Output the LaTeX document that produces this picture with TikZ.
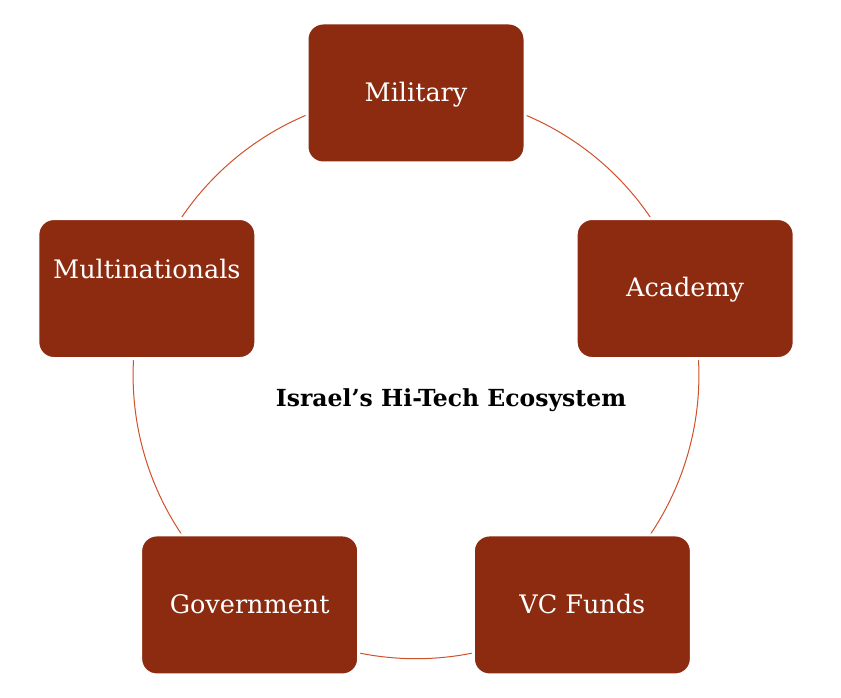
\documentclass[tikz,border=0pt]{standalone}
\usepackage{fontspec}
\setmainfont{DejaVu Serif}
\usetikzlibrary{backgrounds,calc}
\definecolor{boxred}{HTML}{8C2B10}
\definecolor{ringred}{HTML}{D0502A}
\tikzset{
  ecobox/.style={rectangle, rounded corners=16pt, fill=boxred, draw=white, line width=3pt,
    minimum width=218pt, minimum height=140pt, inner sep=0pt},
  ecotext/.style={text=white, font=\fontsize{25.5}{30}\selectfont, inner sep=0pt},
  ring/.style={draw=ringred, line width=1pt},
  title/.style={font=\bfseries\fontsize{23.5}{28}\selectfont, text=black, inner sep=0pt}
}
\begin{document}
\begin{tikzpicture}[x=1pt,y=1pt]
\useasboundingbox (0,0) rectangle (841,698);
\coordinate (c) at (416,322);
\node[ecobox] (military) at ($(c)+(90:283)$) {};
\node[ecobox] (academy) at ($(c)+(18:283)$) {};
\node[ecobox] (vc) at ($(c)+(-54:283)$) {};
\node[ecobox] (gov) at ($(c)+(234:283)$) {};
\node[ecobox] (multi) at ($(c)+(162:283)$) {};
\begin{scope}[on background layer]
\draw[ring] (military.center) to[bend left=36, looseness=0.94] (academy.center)
  to[bend left=36, looseness=0.94] (vc.center)
  to[bend left=36, looseness=0.94] (gov.center)
  to[bend left=36, looseness=0.94] (multi.center)
  to[bend left=36, looseness=0.94] (military.center);
\end{scope}
\node[ecotext] (tmil) at ([yshift=-2pt]military.center) {Military};
\node[ecotext] (taca) at ([yshift=-1pt]academy.center) {Academy};
\node[ecotext] (tvc) at ([yshift=1pt]vc.center) {VC Funds};
\node[ecotext] (tgov) at ([yshift=1pt]gov.center) {Government};
\node[ecotext] (tmul) at ([yshift=20pt]multi.center) {Multinationals};
\node[title] (ttl) at (451,298) {Israel’s Hi-Tech Ecosystem};
\end{tikzpicture}
\end{document}
